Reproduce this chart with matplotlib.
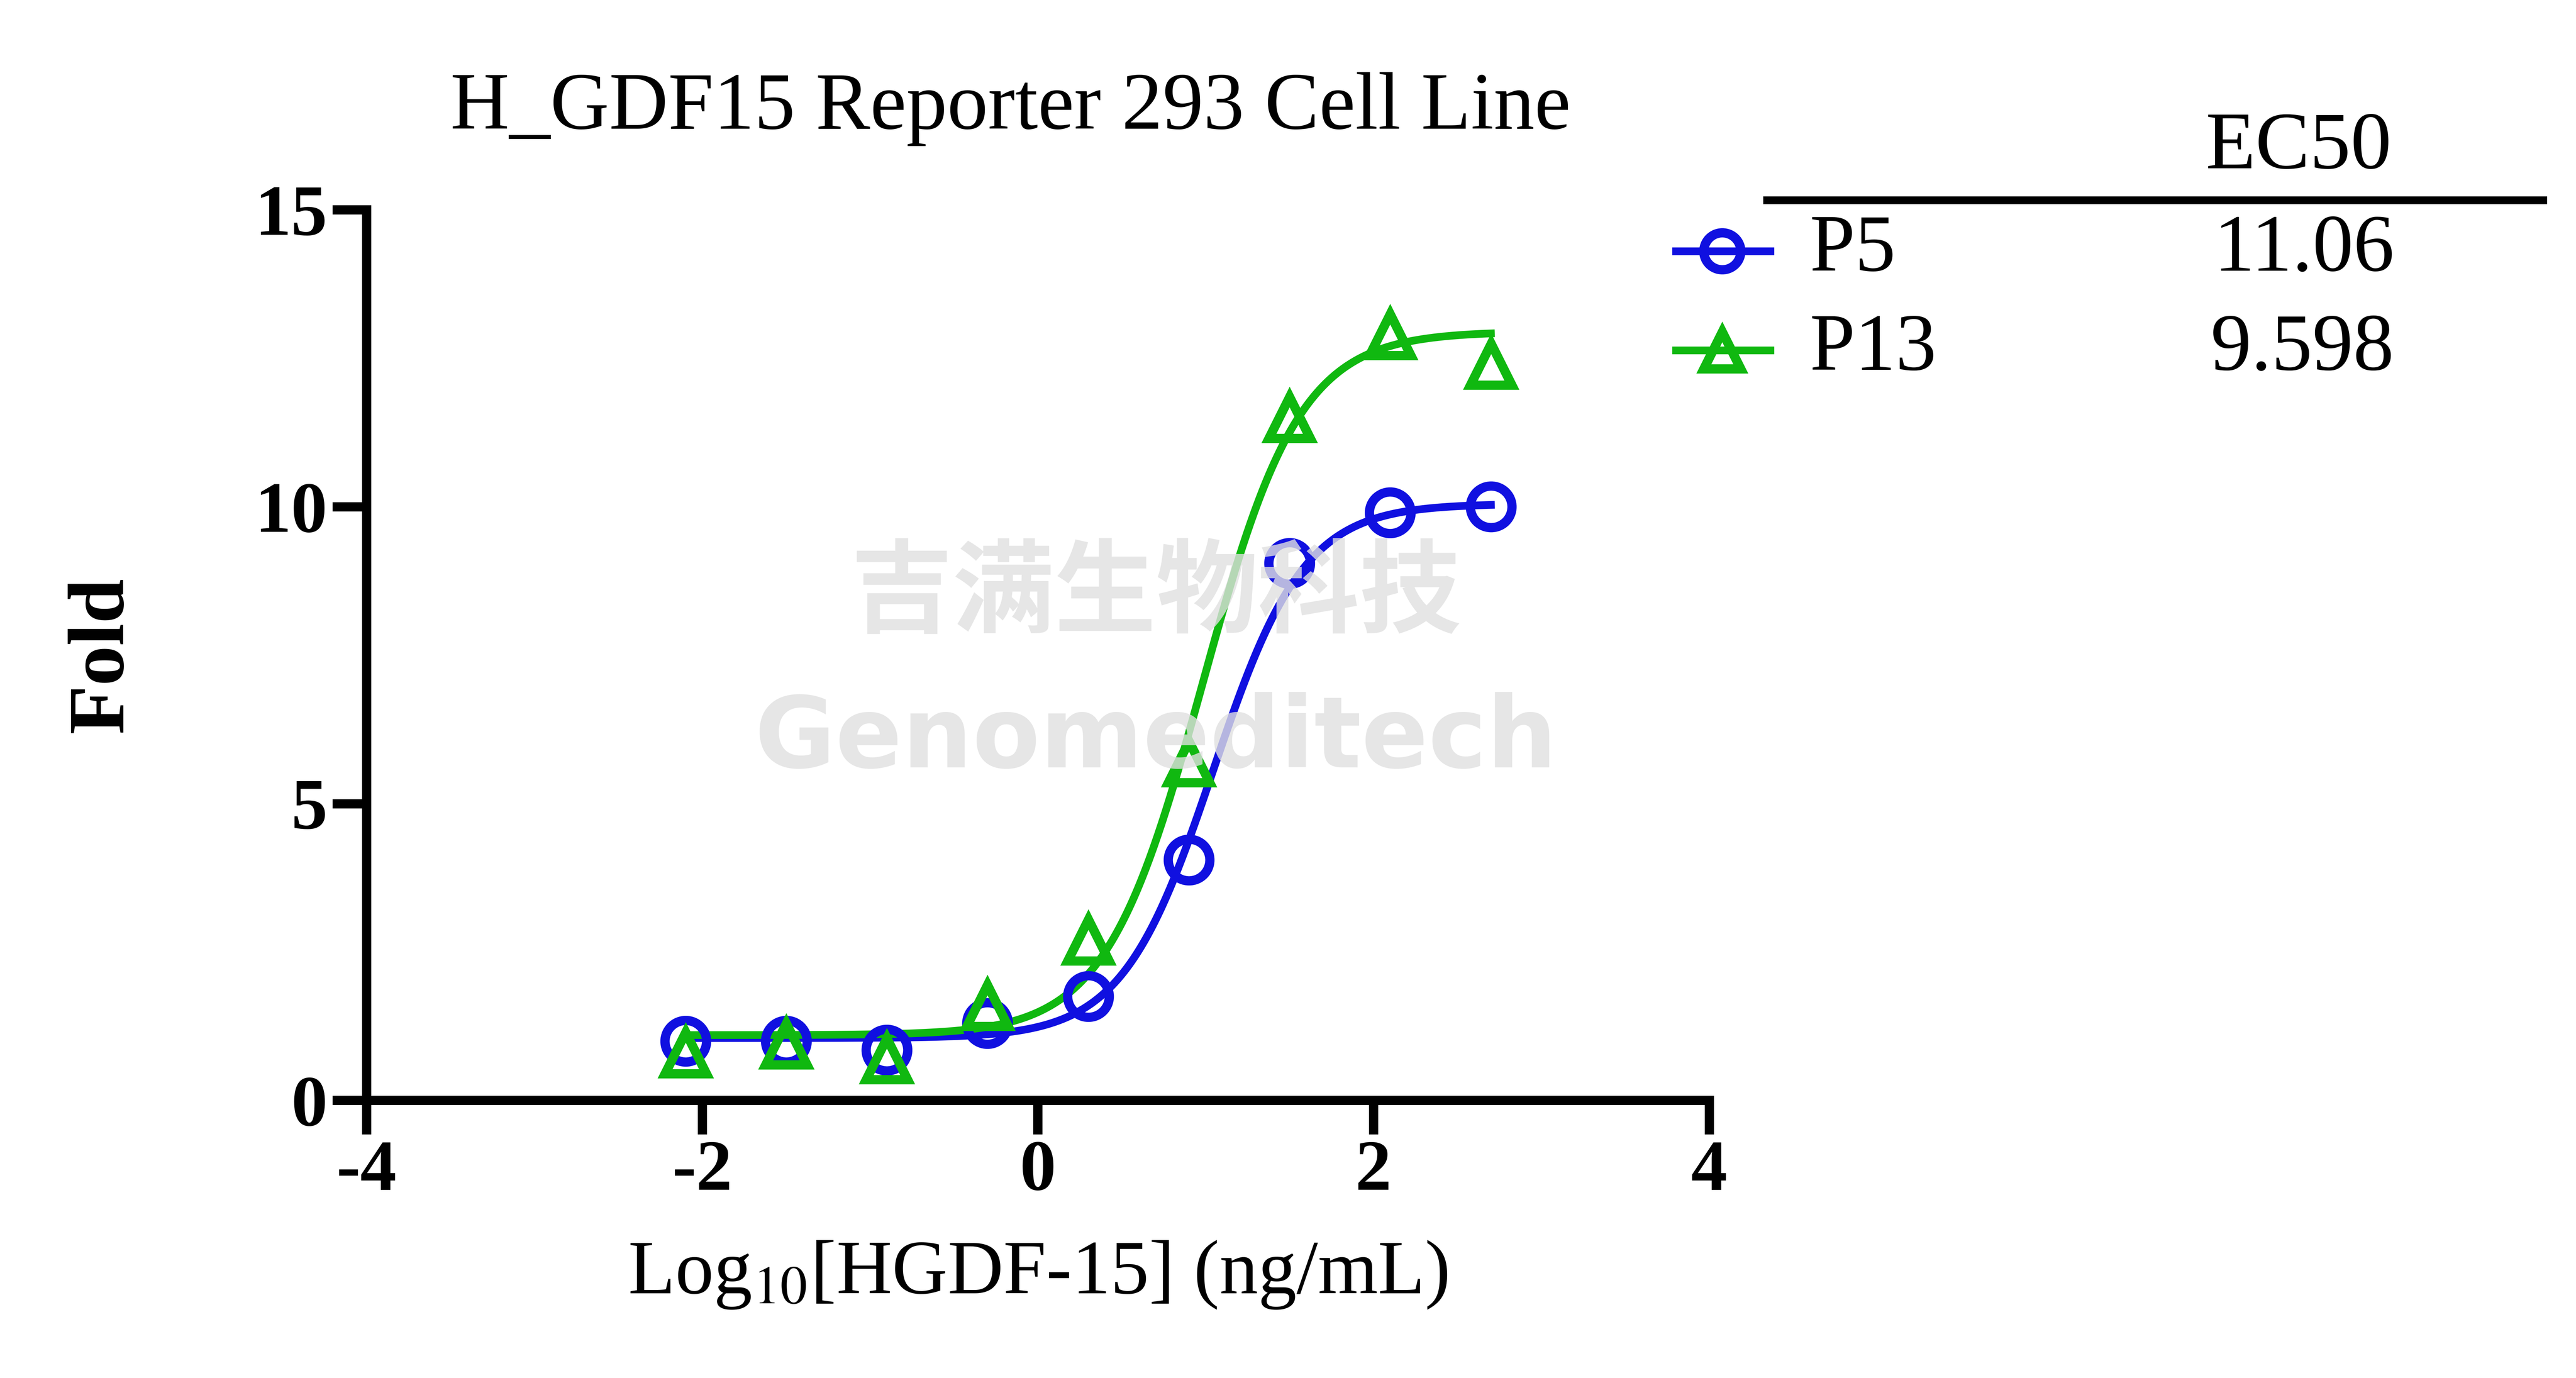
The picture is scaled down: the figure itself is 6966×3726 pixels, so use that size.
import numpy as np
import matplotlib
matplotlib.use("Agg")
import matplotlib.pyplot as plt
from matplotlib.lines import Line2D

x_log = [-2.1, -1.5, -0.9, -0.3, 0.3, 0.9, 1.5, 2.1, 2.7]
p5 = [1.0, 1.0, 0.85, 1.3, 1.75, 4.05, 9.05, 9.9, 10.0]
p13 = [0.8, 0.95, 0.7, 1.6, 2.7, 5.7, 11.5, 12.9, 12.4]
series_names = ["P5", "P13"]
ec50 = ["11.06", "9.598"]
# 4PL fit params: bottom, top, logEC50, hill
fit_p5 = [1.05, 10.05, np.log10(11.06), 1.6]
fit_p13 = [1.1, 12.95, np.log10(9.598), 1.5]
colors = ["#1010e0", "#10b810"]

plt.rcParams['font.family'] = ['Liberation Serif', 'DejaVu Serif']
plt.rcParams['mathtext.fontset'] = 'stix'
plt.rcParams['axes.unicode_minus'] = False
W, H = 6966, 3726
fig = plt.figure(figsize=(W/300, H/300), dpi=300)
ax = fig.add_axes([222/1560, 1-666/834, (1035-222)/1560, (666-127)/834])

def fpl(x, b, t, c, h):
    return b + (t-b)/(1+10**((c-x)*h))

xx = np.linspace(-2.1, 2.7, 400)
for ys, fp, col, mk, ms in [(p5, fit_p5, colors[0], 'o', 27), (p13, fit_p13, colors[1], '^', 27)]:
    ax.plot(xx, fpl(xx, *fp), color=col, lw=5, zorder=3)
    ax.plot(x_log, ys, ls='none', marker=mk, ms=ms, mfc='none', mec=col, mew=6, zorder=4)

ax.set_xlim(-4, 4); ax.set_ylim(0, 15)
ax.set_xticks([-4, -2, 0, 2, 4]); ax.set_yticks([0, 5, 10, 15])
for s in ['top', 'right']:
    ax.spines[s].set_visible(False)
for s in ['left', 'bottom']:
    ax.spines[s].set_linewidth(6)
ax.tick_params(width=6, length=22, labelsize=47, direction='out')
for l in ax.get_xticklabels() + ax.get_yticklabels():
    l.set_fontweight('bold')
ax.set_xlabel(r"Log$_{10}$[HGDF-15] (ng/mL)", fontsize=50, labelpad=22)
ax.set_ylabel("Fold", fontsize=52, fontweight='bold', labelpad=75)
fig.text(612/1560, 1-66/834, "H_GDF15 Reporter 293 Cell Line", fontsize=53, ha='center', va='center')

# watermark
fig.text(700/1560, 1-360/834, "吉满生物科技", fontsize=66, color='#e0e0e0', alpha=0.8,
         ha='center', va='center', family=['Noto Sans CJK SC'], fontweight='bold', zorder=0)
fig.text(700/1560, 1-448/834, "Genomeditech", fontsize=64, color='#e0e0e0', alpha=0.8,
         ha='center', va='center', family=['DejaVu Sans'], fontweight='bold', zorder=0)

# legend table
fig.add_artist(Line2D([1070/1560, 1540/1560], [1-121/834]*2, color='black', lw=5, transform=fig.transFigure))
fig.text(1392/1560, 1-90/834, "EC50", fontsize=53, ha='center', va='center')
for i, (nm, e, col, mk) in enumerate(zip(series_names, ec50, colors, ['o', '^'])):
    y = 1-(152+60*i)/834
    fig.add_artist(Line2D([1015/1560, 1072/1560], [y, y], color=col, lw=5, transform=fig.transFigure))
    fig.add_artist(Line2D([1043/1560], [y], marker=mk, ms=24, mfc='none', mec=col, mew=6, transform=fig.transFigure))
    fig.text(1096/1560, y, nm, fontsize=53, ha='left', va='center')
    fig.text(1450/1560, y, e, fontsize=53, ha='right', va='center')

fig.savefig("out.png", dpi=300)
